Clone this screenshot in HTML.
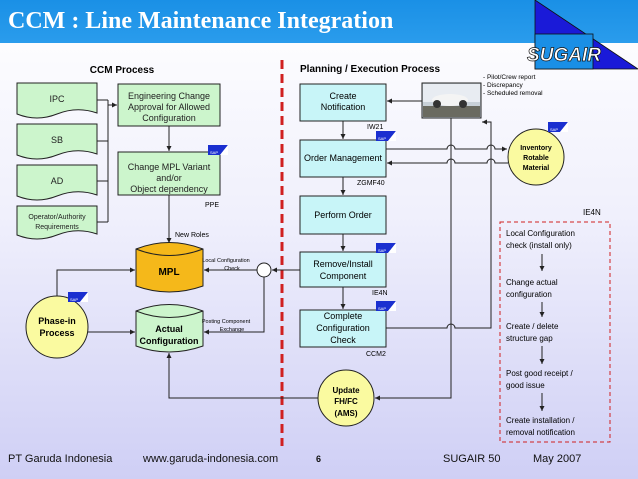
<!DOCTYPE html>
<html><head><meta charset="utf-8"><style>
html,body{margin:0;padding:0;width:638px;height:479px;overflow:hidden}
svg{display:block;font-family:"Liberation Sans",sans-serif}
</style></head><body>
<svg width="638" height="479" viewBox="0 0 638 479" xmlns="http://www.w3.org/2000/svg">
<defs>
<linearGradient id="bg" x1="0" y1="0" x2="0" y2="1"><stop offset="0" stop-color="#ffffff"/><stop offset="0.45" stop-color="#f0f0fc"/><stop offset="1" stop-color="#cfcff5"/></linearGradient>
<linearGradient id="hd" x1="0" y1="0" x2="0" y2="1"><stop offset="0" stop-color="#1a90e6"/><stop offset="1" stop-color="#2a9cec"/></linearGradient>
<marker id="a" markerWidth="6" markerHeight="6" refX="5" refY="3" orient="auto"><path d="M0,0.5 L5,3 L0,5.5z" fill="#222"/></marker>
<g id="sap"><rect x="0" y="0" width="12" height="10" fill="#1a2fd0"/><path d="M12,0 L20,0 L12,10z" fill="#1a2fd0"/><path d="M12,10 L20,0 L20,10z" fill="#fff"/><text x="2" y="9" font-size="4" fill="#fff">SAP</text></g>
</defs>
<rect width="638" height="479" fill="url(#bg)"/>
<rect x="0" y="0" width="638" height="43" fill="url(#hd)"/>
<text x="8" y="28" font-family="Liberation Serif,serif" font-weight="bold" font-size="24" fill="#fff">CCM : Line Maintenance Integration</text>
<!-- logo -->
<path d="M535,0 L638,69 L535,69z" fill="#1a1ad8" stroke="#111" stroke-width="0.8"/>
<rect x="535" y="34" width="58" height="35" fill="#1a8fe6" stroke="#111" stroke-width="0.8"/>
<text x="564" y="61" text-anchor="middle" font-weight="bold" font-style="italic" font-size="19" fill="#fff" stroke="#111" stroke-width="0.7">SUGAIR</text>

<text x="122" y="73" text-anchor="middle" font-weight="bold" font-size="10">CCM Process</text>
<text x="300" y="72" font-weight="bold" font-size="10">Planning / Execution Process</text>
<line x1="282" y1="60" x2="282" y2="446" stroke="#d02020" stroke-width="3" stroke-dasharray="9,5"/>

<g fill="#ccf5cc" stroke="#222" stroke-width="1">
<path d="M17,83 H97 V113 Q77,106 57,114 Q37,122 17,114z"/>
<path d="M17,124 H97 V154 Q77,147 57,155 Q37,163 17,155z"/>
<path d="M17,165 H97 V195 Q77,188 57,196 Q37,204 17,196z"/>
<path d="M17,206 H97 V234 Q77,227 57,235 Q37,243 17,235z"/>
<rect x="118" y="84" width="102" height="42"/>
<rect x="118" y="152" width="102" height="43"/>
</g>
<g font-size="9" text-anchor="middle" fill="#222">
<text x="57" y="102">IPC</text><text x="57" y="143">SB</text><text x="57" y="184">AD</text>
<text x="57" y="219" font-size="7">Operator/Authority</text><text x="57" y="229" font-size="7">Requirements</text>
<text x="169" y="99">Engineering Change</text><text x="169" y="110">Approval for Allowed</text><text x="169" y="121">Configuration</text>
<text x="169" y="170">Change MPL Variant</text><text x="169" y="181">and/or</text><text x="169" y="192">Object dependency</text>
</g>
<use href="#sap" x="208" y="145"/>
<g stroke="#222" fill="none" stroke-width="1">
<path d="M97,100 H108 M97,141 H108 M97,181 H108 M97,222 H108 M108,100 V222"/>
<path d="M108,105 H117" marker-end="url(#a)"/>
<path d="M169,126 V151" marker-end="url(#a)"/>
<path d="M169,195 V243" marker-end="url(#a)"/>
</g>
<text x="205" y="207" font-size="7">PPE</text>
<text x="175" y="237" font-size="7">New Roles</text>

<!-- MPL -->
<path d="M136,249 Q169,236 203,249 V286 Q169,298 136,286z" fill="#f5b81a" stroke="#222"/>
<path d="M136,249 Q169,262 203,249" fill="none" stroke="#222"/>
<text x="169" y="275" text-anchor="middle" font-weight="bold" font-size="10">MPL</text>
<path d="M136,311 Q169,298 203,311 V346 Q169,358 136,346z" fill="#ccf5cc" stroke="#222"/>
<path d="M136,311 Q169,324 203,311" fill="none" stroke="#222"/>
<text x="169" y="332" text-anchor="middle" font-weight="bold" font-size="9">Actual</text>
<text x="169" y="344" text-anchor="middle" font-weight="bold" font-size="9">Configuration</text>
<text x="226" y="262" text-anchor="middle" font-size="5.5">Local Configuration</text><text x="232" y="270" text-anchor="middle" font-size="5.5">Check</text>
<text x="226" y="323" text-anchor="middle" font-size="5.5">Posting Component</text><text x="232" y="331" text-anchor="middle" font-size="5.5">Exchange</text>
<circle cx="264" cy="270" r="7" fill="#fff" stroke="#222"/>
<circle cx="57" cy="327" r="31" fill="#fafaa0" stroke="#222"/>
<text x="57" y="324" text-anchor="middle" font-weight="bold" font-size="9">Phase-in</text><text x="57" y="336" text-anchor="middle" font-weight="bold" font-size="9">Process</text>
<use href="#sap" x="68" y="292"/>
<g stroke="#222" fill="none">
<path d="M257,270 H204" marker-end="url(#a)"/>
<path d="M300,270 H272" marker-end="url(#a)"/>
<path d="M264,277 V332 H204" marker-end="url(#a)"/>
<path d="M57,296 V270 H135" marker-end="url(#a)"/>
<path d="M88,332 H135" marker-end="url(#a)"/>
<path d="M318,398 H169 V353" marker-end="url(#a)"/>
</g>

<!-- right column -->
<g fill="#c8f5f8" stroke="#222">
<rect x="300" y="84" width="86" height="37"/>
<rect x="300" y="140" width="86" height="37"/>
<rect x="300" y="196" width="86" height="38"/>
<rect x="300" y="252" width="86" height="35"/>
<rect x="300" y="310" width="86" height="37"/>
</g>
<g font-size="9" text-anchor="middle">
<text x="343" y="99">Create</text><text x="343" y="110">Notification</text>
<text x="343" y="161">Order Management</text>
<text x="343" y="218">Perform Order</text>
<text x="343" y="267">Remove/Install</text><text x="343" y="279">Component</text>
<text x="343" y="319">Complete</text><text x="343" y="331">Configuration</text><text x="343" y="343">Check</text>
</g>
<g font-size="7"><text x="367" y="129">IW21</text><text x="357" y="185">ZGMF40</text><text x="372" y="295">IE4N</text><text x="366" y="356">CCM2</text></g>
<use href="#sap" x="376" y="131"/><use href="#sap" x="376" y="243"/><use href="#sap" x="376" y="301"/>
<g stroke="#222" fill="none">
<path d="M343,121 V139" marker-end="url(#a)"/>
<path d="M343,177 V195" marker-end="url(#a)"/>
<path d="M343,234 V251" marker-end="url(#a)"/>
<path d="M343,287 V309" marker-end="url(#a)"/>
<path d="M422,101 H387" marker-end="url(#a)"/>
<path d="M386,149 H447 a4,4 0 0 1 8,0 H487 a4,4 0 0 1 8,0 H507" marker-end="url(#a)"/>
<path d="M508,163 H495 a4,4 0 0 0 -8,0 H455 a4,4 0 0 0 -8,0 H387" marker-end="url(#a)"/>
<path d="M451,118 V398 H375" marker-end="url(#a)"/>
<path d="M386,328 H447 a4,4 0 0 1 8,0 H491 V122 H482" marker-end="url(#a)"/>
</g>
<!-- plane -->
<rect x="422" y="83" width="59" height="35" fill="#c8d0d8" stroke="#222"/>
<rect x="423" y="84" width="57" height="18" fill="#e8ecf2"/>
<rect x="423" y="106" width="57" height="11" fill="#6a6a60"/>
<ellipse cx="450" cy="100" rx="18" ry="6" fill="#f4f4f4"/>
<circle cx="437" cy="104" r="4" fill="#333"/><circle cx="463" cy="104" r="4" fill="#333"/>
<g font-size="6.5"><text x="483" y="79">- Pilot/Crew report</text><text x="483" y="87">- Discrepancy</text><text x="483" y="95">- Scheduled removal</text></g>
<circle cx="536" cy="157" r="28" fill="#fafaa0" stroke="#222"/>
<g font-size="7" font-weight="bold" text-anchor="middle"><text x="536" y="150">Inventory</text><text x="536" y="160">Rotable</text><text x="536" y="170">Material</text></g>
<use href="#sap" x="548" y="122"/>
<circle cx="346" cy="398" r="28" fill="#fafaa0" stroke="#222"/>
<g font-size="8" font-weight="bold" text-anchor="middle"><text x="346" y="393">Update</text><text x="346" y="404">FH/FC</text><text x="346" y="416">(AMS)</text></g>

<text x="583" y="215" font-size="8">IE4N</text>
<rect x="500" y="222" width="110" height="220" fill="none" stroke="#d02020" stroke-dasharray="4,3"/>
<g font-size="8">
<text x="506" y="236">Local Configuration</text><text x="506" y="248">check (install only)</text>
<text x="506" y="285">Change actual</text><text x="506" y="297">configuration</text>
<text x="506" y="329">Create / delete</text><text x="506" y="341">structure gap</text>
<text x="506" y="376">Post good receipt /</text><text x="506" y="388">good issue</text>
<text x="506" y="423">Create installation /</text><text x="506" y="435">removal notification</text>
</g>
<g stroke="#222" fill="none">
<path d="M542,254 V271" marker-end="url(#a)"/><path d="M542,302 V317" marker-end="url(#a)"/>
<path d="M542,346 V364" marker-end="url(#a)"/><path d="M542,393 V411" marker-end="url(#a)"/>
</g>
<g font-size="11" fill="#111">
<text x="8" y="462">PT Garuda Indonesia</text>
<text x="143" y="462">www.garuda-indonesia.com</text>
<text x="316" y="462" font-weight="bold" font-size="9">6</text>
<text x="443" y="462">SUGAIR  50</text>
<text x="533" y="462">May 2007</text>
</g>
</svg>
</body></html>
